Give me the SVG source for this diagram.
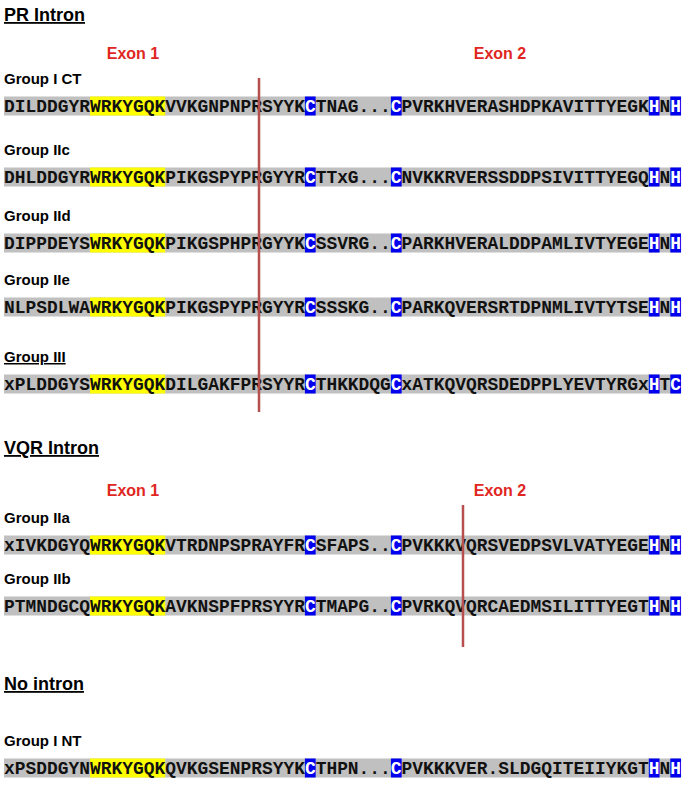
<svg xmlns="http://www.w3.org/2000/svg" width="685" height="796" viewBox="0 0 685 796">
<style>
.h{font-family:"Liberation Sans",Arial,sans-serif;font-weight:bold;font-size:18px;text-decoration:underline;fill:#000}
.g{font-family:"Liberation Sans",Arial,sans-serif;font-weight:bold;font-size:15px;fill:#000}
.gu{font-family:"Liberation Sans",Arial,sans-serif;font-weight:bold;font-size:15px;fill:#000;text-decoration:underline}
.ex{font-family:"Liberation Sans",Arial,sans-serif;font-weight:bold;font-size:16px;fill:#e0261e;text-anchor:middle}
.s{font-family:"Liberation Mono","Courier New",monospace;font-size:17.9px;font-weight:bold;fill:#111}
.w{fill:#fff}
.bar{fill:#c0c0c0}
.y{fill:#ffff00}
.b{fill:#0000ee}
.cut{stroke:#b5504e;stroke-width:2.5}
</style>
<text class="h" x="4" y="21">PR Intron</text>
<text class="ex" x="133" y="59">Exon 1</text>
<text class="ex" x="500" y="59">Exon 2</text>
<text class="h" x="4" y="454">VQR Intron</text>
<text class="ex" x="133" y="496">Exon 1</text>
<text class="ex" x="500" y="496">Exon 2</text>
<text class="h" x="4" y="690">No intron</text>

<g id="row-ICT"><text class="g" x="4" y="84">Group I CT</text>
<rect class="bar" x="4" y="96.5" width="677" height="19"/><rect class="y" x="90" y="96.5" width="75.2" height="19"/>
<rect class="b" x="304.9" y="96.5" width="10.75" height="19"/><rect class="b" x="390.9" y="96.5" width="10.75" height="19"/><rect class="b" x="648.8" y="96.5" width="10.75" height="19"/><rect class="b" x="670.3" y="96.5" width="10.75" height="19"/>
<text class="s" x="4" y="112" textLength="677" lengthAdjust="spacing">DILDDGYRWRKYGQKVVKGNPNPRSYYK<tspan class="w">C</tspan>TNAG...<tspan class="w">C</tspan>PVRKHVERASHDPKAVITTYEGK<tspan class="w">H</tspan>N<tspan class="w">H</tspan></text></g>

<g id="row-IIc"><text class="g" x="4" y="155">Group IIc</text>
<rect class="bar" x="4" y="167.5" width="677" height="19"/><rect class="y" x="90" y="167.5" width="75.2" height="19"/>
<rect class="b" x="304.9" y="167.5" width="10.75" height="19"/><rect class="b" x="390.9" y="167.5" width="10.75" height="19"/><rect class="b" x="648.8" y="167.5" width="10.75" height="19"/><rect class="b" x="670.3" y="167.5" width="10.75" height="19"/>
<text class="s" x="4" y="183" textLength="677" lengthAdjust="spacing">DHLDDGYRWRKYGQKPIKGSPYPRGYYR<tspan class="w">C</tspan>TTxG...<tspan class="w">C</tspan>NVKKRVERSSDDPSIVITTYEGQ<tspan class="w">H</tspan>N<tspan class="w">H</tspan></text></g>

<g id="row-IId"><text class="g" x="4" y="221">Group IId</text>
<rect class="bar" x="4" y="233.5" width="677" height="19"/><rect class="y" x="90" y="233.5" width="75.2" height="19"/>
<rect class="b" x="304.9" y="233.5" width="10.75" height="19"/><rect class="b" x="390.9" y="233.5" width="10.75" height="19"/><rect class="b" x="648.8" y="233.5" width="10.75" height="19"/><rect class="b" x="670.3" y="233.5" width="10.75" height="19"/>
<text class="s" x="4" y="249" textLength="677" lengthAdjust="spacing">DIPPDEYSWRKYGQKPIKGSPHPRGYYK<tspan class="w">C</tspan>SSVRG..<tspan class="w">C</tspan>PARKHVERALDDPAMLIVTYEGE<tspan class="w">H</tspan>N<tspan class="w">H</tspan></text></g>

<g id="row-IIe"><text class="g" x="4" y="285">Group IIe</text>
<rect class="bar" x="4" y="297.5" width="677" height="19"/><rect class="y" x="90" y="297.5" width="75.2" height="19"/>
<rect class="b" x="304.9" y="297.5" width="10.75" height="19"/><rect class="b" x="390.9" y="297.5" width="10.75" height="19"/><rect class="b" x="648.8" y="297.5" width="10.75" height="19"/><rect class="b" x="670.3" y="297.5" width="10.75" height="19"/>
<text class="s" x="4" y="313" textLength="677" lengthAdjust="spacing">NLPSDLWAWRKYGQKPIKGSPYPRGYYR<tspan class="w">C</tspan>SSSKG..<tspan class="w">C</tspan>PARKQVERSRTDPNMLIVTYTSE<tspan class="w">H</tspan>N<tspan class="w">H</tspan></text></g>

<g id="row-III"><text class="gu" x="4" y="362">Group III</text>
<rect class="bar" x="4" y="374.5" width="677" height="19"/><rect class="y" x="90" y="374.5" width="75.2" height="19"/>
<rect class="b" x="304.9" y="374.5" width="10.75" height="19"/><rect class="b" x="390.9" y="374.5" width="10.75" height="19"/><rect class="b" x="648.8" y="374.5" width="10.75" height="19"/><rect class="b" x="670.3" y="374.5" width="10.75" height="19"/>
<text class="s" x="4" y="390" textLength="677" lengthAdjust="spacing">xPLDDGYSWRKYGQKDILGAKFPRSYYR<tspan class="w">C</tspan>THKKDQG<tspan class="w">C</tspan>xATKQVQRSDEDPPLYEVTYRGx<tspan class="w">H</tspan>T<tspan class="w">C</tspan></text></g>

<g id="row-IIa"><text class="g" x="4" y="523">Group IIa</text>
<rect class="bar" x="4" y="535.5" width="677" height="19"/><rect class="y" x="90" y="535.5" width="75.2" height="19"/>
<rect class="b" x="304.9" y="535.5" width="10.75" height="19"/><rect class="b" x="390.9" y="535.5" width="10.75" height="19"/><rect class="b" x="648.8" y="535.5" width="10.75" height="19"/><rect class="b" x="670.3" y="535.5" width="10.75" height="19"/>
<text class="s" x="4" y="551" textLength="677" lengthAdjust="spacing">xIVKDGYQWRKYGQKVTRDNPSPRAYFR<tspan class="w">C</tspan>SFAPS..<tspan class="w">C</tspan>PVKKKVQRSVEDPSVLVATYEGE<tspan class="w">H</tspan>N<tspan class="w">H</tspan></text></g>

<g id="row-IIb"><text class="g" x="4" y="584">Group IIb</text>
<rect class="bar" x="4" y="596.5" width="677" height="19"/><rect class="y" x="90" y="596.5" width="75.2" height="19"/>
<rect class="b" x="304.9" y="596.5" width="10.75" height="19"/><rect class="b" x="390.9" y="596.5" width="10.75" height="19"/><rect class="b" x="648.8" y="596.5" width="10.75" height="19"/><rect class="b" x="670.3" y="596.5" width="10.75" height="19"/>
<text class="s" x="4" y="612" textLength="677" lengthAdjust="spacing">PTMNDGCQWRKYGQKAVKNSPFPRSYYR<tspan class="w">C</tspan>TMAPG..<tspan class="w">C</tspan>PVRKQVQRCAEDMSILITTYEGT<tspan class="w">H</tspan>N<tspan class="w">H</tspan></text></g>

<g id="row-INT"><text class="g" x="4" y="746">Group I NT</text>
<rect class="bar" x="4" y="758.5" width="677" height="19"/><rect class="y" x="90" y="758.5" width="75.2" height="19"/>
<rect class="b" x="304.9" y="758.5" width="10.75" height="19"/><rect class="b" x="390.9" y="758.5" width="10.75" height="19"/><rect class="b" x="648.8" y="758.5" width="10.75" height="19"/><rect class="b" x="670.3" y="758.5" width="10.75" height="19"/>
<text class="s" x="4" y="774" textLength="677" lengthAdjust="spacing">xPSDDGYNWRKYGQKQVKGSENPRSYYK<tspan class="w">C</tspan>THPN...<tspan class="w">C</tspan>PVKKKVER.SLDGQITEIIYKGT<tspan class="w">H</tspan>N<tspan class="w">H</tspan></text></g>

<g id="connectors">
<line class="cut" x1="259" y1="78" x2="259" y2="412"/>
<line class="cut" x1="463" y1="505" x2="463" y2="647"/>
</g>
</svg>
